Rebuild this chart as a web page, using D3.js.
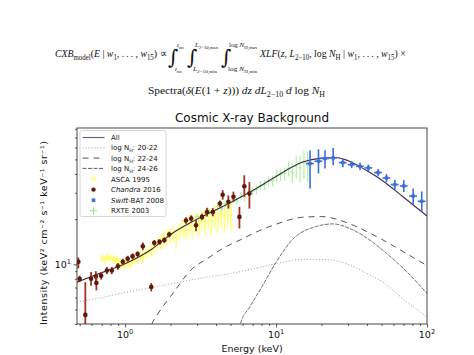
<!DOCTYPE html>
<html><head><meta charset="utf-8">
<script src="https://cdn.jsdelivr.net/npm/d3@7"></script>
<style>body{margin:0;background:#fff}svg{display:block}</style>
</head><body>
<svg id="c" width="474" height="355"></svg>
<script>
// ---------- data ----------
const allE = [0.48,0.7,1,1.5,2,3,5,7,10,15,20,25,30,40,50,70,100];
const allV = [7.6,8.8,10.1,12.6,15.8,20,25.8,31,38.5,48,51,51.5,49,42,36.5,28,21];
const nh2022E = [0.48,0.7,1,1.5,2,3,5,7,10,15,20,30,40,50,70,100];
const nh2022V = [5.6,6.0,6.5,7.0,7.4,8.0,8.7,9.3,10.1,10.8,10.8,10.0,8.7,7.7,5.85,4.45];
const nh2224E = [1.4,1.5,1.7,2,2.8,3.5,4.4,6,7,10,15,20,30,40,50,70,100];
const nh2224V = [3.4,4.0,4.9,6.1,9.4,10.9,12.7,14.8,16.0,18.5,20.6,20.8,18.8,16.5,14.7,12.1,9.8];
const nh2426E = [5.5,5.8,6.7,8,10,13,18.6,24,30,36,51,73.6,100];
const nh2426V = [3.2,4.0,5.2,7.0,10.3,14.8,17.9,18.6,17.5,16.0,12.4,8.9,6.4];

const ascaE = [0.70,0.73,0.76,0.79,0.82,0.85,0.88,0.91,0.94,0.97,1.00,1.04,1.08,1.12,1.16,1.21,1.26,1.31,1.37,1.43,1.50,1.57,1.64,1.72,1.80,1.89,1.98,2.08,2.18,2.29,2.40,2.52,2.65,2.78,2.92,3.07,3.22,3.38,3.55,3.73,3.92,4.12,4.33,4.55,4.78,5.02];
const ascaV = [11.0,10.7,11.2,10.9,11.1,10.6,10.8,10.4,10.2,9.9,10.1,10.3,10.0,10.6,10.9,11.0,11.4,11.2,11.9,12.1,12.5,13.2,13.8,14.0,14.9,15.1,15.6,16.0,15.3,16.8,17.5,17.0,18.3,17.8,19.0,18.6,19.8,19.2,20.5,19.5,21.0,20.2,21.6,20.8,22.0,21.2];
const ascaErr = [0.6,0.6,0.6,0.6,0.6,0.6,0.6,0.6,0.6,0.6,0.7,0.7,0.7,0.8,0.8,0.9,0.9,1.0,1.0,1.1,1.2,1.3,1.4,1.5,1.6,1.7,1.8,1.9,2.2,2.0,2.4,2.6,2.5,2.8,2.9,3.2,3.0,3.5,3.3,3.8,3.6,4.0,3.8,4.2,4.0,4.4];

const chE = [0.49,0.50,0.545,0.595,0.64,0.645,0.694,0.757,0.816,0.895,0.965,1.04,1.12,1.21,1.31,1.49,1.56,1.69,1.82,1.96,2.53,2.74,2.95,3.23,3.49,3.81,4.25,4.43,4.83,5.22,5.72,6.16,6.66];
const chV = [10.4,8.0,4.6,8.0,8.3,7.5,8.4,9.1,9.1,9.7,10.4,10.9,11.3,11.7,13.2,7.05,13.9,14.1,14.5,15.8,19.6,20.2,18.2,20.7,22.3,22.3,25.4,29.1,26.1,28.2,20.7,33.1,29.6];
const chLo = [9.4,7.6,3.5,7.2,7.7,6.7,7.9,8.6,8.6,9.2,9.9,10.4,10.8,11.2,12.4,6.6,13.3,13.5,13.9,15.1,18.6,19.2,16.6,19.7,20.8,20.9,24.2,27.0,23.5,26.0,17.3,28.2,23.5];
const chHi = [11.1,8.4,7.6,8.9,9.0,8.3,8.9,9.6,9.6,10.2,10.9,11.4,11.8,12.2,14.0,7.5,14.5,14.7,15.1,16.5,20.6,21.2,19.9,21.7,23.8,23.7,26.6,31.2,28.8,30.5,24.1,39.2,35.3];

const swE = [16.8,19.1,21.1,23.9,27.7,31.7,36.0,40.9,47.4,53.9,61.2,70.2,81.0,92.3];
const swV = [46.9,48.7,50.7,51.2,47.6,46.2,45.0,43.9,40.9,37.6,34.0,33.3,28.5,26.3];
const swLo = [32.0,40.3,43.5,45.7,44.4,43.7,42.5,41.6,38.6,35.3,31.5,30.3,25.0,22.3];
const swHi = [57.5,58.4,57.5,59.6,50.7,48.7,47.5,46.2,43.2,39.9,36.5,36.3,32.0,30.6];

const rxE = [3.0,3.2,3.4,3.6,3.85,4.1,4.35,4.6,4.9,5.2,5.5,5.85,6.2,6.6,7.0,7.4,7.9,8.4,8.9,9.5,10.1,10.7,11.4,12.1,12.8,13.6,14.4,15.3,16.2];
const rxV = [20.8,20.2,21.9,22.4,22.0,24.3,23.6,25.4,24.9,27.0,26.4,28.6,28.0,30.2,30.8,31.5,33.4,33.9,35.8,36.1,38.9,39.5,40.2,43.6,41.0,45.2,44.0,47.5,46.0];
const rxErr = [0.8,0.9,1.0,1.0,1.1,1.2,1.2,1.3,1.4,1.5,1.6,1.7,1.8,1.9,2.0,2.2,2.4,2.6,2.8,3.0,3.3,3.6,4.0,5.0,6.0,8.0,9.0,10.0,11.0];

const xMajor = [1,10,100];
const xMinor = [0.5,0.6,0.7,0.8,0.9,2,3,4,5,6,7,8,9,20,30,40,50,60,70,80,90];
const yMajor = [10];
const yMinor = [4,5,6,7,8,9,20,30,40,50,60,70,80];
const xTickExp = ["0","1","2"];
const yTickExp = ["1"];

// ---------- layout ----------
const svg = d3.select("#c");
const L=77,R=427,T=128,B=324;
const x = d3.scaleLog().domain([0.48,100]).range([L,R]);
const y = d3.scaleLog().domain([4,81]).range([B,T]);
const SANS = "DejaVu Sans, sans-serif";
const SERIF = "Liberation Serif, Times New Roman, serif";

function rich(g, xx, yy, parts, size, family, anchor) {
  const t = g.append("text").attr("x",xx).attr("y",yy)
    .style("font-family",family).style("font-size",size+"px").attr("fill","#111");
  if (anchor) t.attr("text-anchor",anchor);
  let shift=0;
  parts.forEach(p=>{
    const s=p[0], o=p[1]||{};
    const target = o.sub ? size*0.28 : (o.sup ? -size*0.38 : 0);
    const ts=t.append("tspan").text(s).attr("dy",target-shift);
    shift=target;
    if(o.sub||o.sup) ts.style("font-size",(size*0.7)+"px");
    if(o.i) ts.style("font-style","italic");
  });
  return t;
}
function fitW(t, x0, w){
  const bb=t.node().getBBox();
  if(bb.width>0) t.attr("transform",`translate(${x0},0) scale(${w/bb.width},1) translate(${-x0},0)`);
}

// ---------- equation ----------
const eq = svg.append("g");
const ES=10.5;
const dots=", .\u2009.\u2009. , ";
fitW(rich(eq,55,57,[["CXB",{i:1}],["model",{sub:1}],["(",{}],["E",{i:1}],[" | ",{}],["w",{i:1}],["1",{sub:1}],[dots,{}],["w",{i:1}],["15",{sub:1}],[") ∝",{}]],ES,SERIF),55,112);
const ints = [
  {x:168, ux:177, lx:175, uw:8, lw:8, up:[["z",{i:1}],["max",{sub:1}]], lo:[["z",{i:1}],["min",{sub:1}]]},
  {x:187, ux:195, lx:193, uw:25, lw:26, up:[["L",{i:1}],["2−10,max",{sub:1}]], lo:[["L",{i:1}],["2−10,min",{sub:1}]]},
  {x:221, ux:229, lx:228, uw:29, lw:30, up:[["log ",{}],["N",{i:1}],["H,max",{sub:1}]], lo:[["log ",{}],["N",{i:1}],["H,min",{sub:1}]]}
];
ints.forEach(d=>{
  eq.append("text").attr("x",d.x).attr("y",64).text("∫")
    .style("font-family","DejaVu Serif, serif").style("font-size","20px").attr("fill","#111");
  fitW(rich(eq,d.ux,47,d.up,6.5,SERIF),d.ux,d.uw);
  fitW(rich(eq,d.lx,71,d.lo,6.5,SERIF),d.lx,d.lw);
});
fitW(rich(eq,260,57,[["XLF",{i:1}],["(",{}],["z",{i:1}],[", ",{}],["L",{i:1}],["2−10",{sub:1}],[", log ",{}],["N",{i:1}],["H",{sub:1}],[" | ",{}],["w",{i:1}],["1",{sub:1}],[dots,{}],["w",{i:1}],["15",{sub:1}],[") ×",{}]],ES,SERIF),260,147);
fitW(rich(eq,148,94,[["Spectra(",{}],["δ",{i:1}],["(",{}],["E",{i:1}],["(1 + ",{}],["z",{i:1}],["))) ",{}],["dz dL",{i:1}],["2−10",{sub:1}],[" ",{}],["d",{i:1}],[" log ",{}],["N",{i:1}],["H",{sub:1}]],ES,SERIF),148,178);

// ---------- title & labels ----------
svg.append("text").attr("x",(L+R)/2).attr("y",122).attr("text-anchor","middle")
  .style("font-family",SANS).style("font-size","12px").attr("fill","#111").text("Cosmic X-ray Background");
svg.append("text").attr("x",(L+R)/2).attr("y",352).attr("text-anchor","middle")
  .style("font-family",SANS).style("font-size","9.5px").attr("fill","#111").text("Energy (keV)");
svg.append("text").attr("transform",`translate(47,${(T+B)/2+7}) rotate(-90)`).attr("text-anchor","middle")
  .style("font-family",SANS).style("font-size","9.5px").attr("fill","#111")
  .attr("textLength",184).attr("lengthAdjust","spacing")
  .text("Intensity (keV² cm⁻² s⁻¹ keV⁻¹ sr⁻¹)");

// ---------- axes ----------
const axCol="#333";
function styleAxis(g){ g.select(".domain").remove(); g.selectAll("line").attr("stroke",axCol).attr("stroke-width",0.8); g.selectAll("text").remove(); }
svg.append("g").attr("transform",`translate(0,${B})`).call(d3.axisBottom(x).tickValues(xMajor).tickSize(3.5)).call(styleAxis);
svg.append("g").attr("transform",`translate(0,${B})`).call(d3.axisBottom(x).tickValues(xMinor).tickSize(2)).call(styleAxis);
svg.append("g").attr("transform",`translate(${L},0)`).call(d3.axisLeft(y).tickValues(yMajor).tickSize(3.5)).call(styleAxis);
svg.append("g").attr("transform",`translate(${L},0)`).call(d3.axisLeft(y).tickValues(yMinor).tickSize(2)).call(styleAxis);
xMajor.forEach((v,i)=>{
  rich(svg,x(v),338,[["10",{}],[xTickExp[i],{sup:1}]],9.5,SANS,"middle");
});
yMajor.forEach((v,i)=>{
  rich(svg,71,y(v)+3.5,[["10",{}],[yTickExp[i],{sup:1}]],9.5,SANS,"end");
});

// ---------- plot content ----------
svg.append("clipPath").attr("id","clip").append("rect").attr("x",L).attr("y",T).attr("width",R-L).attr("height",B-T);
const P = svg.append("g").attr("clip-path","url(#clip)");
const line = d3.line().x(d=>x(d[0])).y(d=>y(d[1])).curve(d3.curveMonotoneX);
const zip=(a,b)=>a.map((v,i)=>[v,b[i]]);

// ASCA
const ascaCol="#ffff30";
const ag=P.append("g").attr("opacity",0.7);
ascaE.forEach((e,i)=>{
  const v=ascaV[i], er=ascaErr[i];
  ag.append("line").attr("x1",x(e)).attr("x2",x(e)).attr("y1",y(v-er)).attr("y2",y(v+er)).attr("stroke",ascaCol).attr("stroke-width",1.5);
  ag.append("line").attr("x1",x(e*0.98)).attr("x2",x(e*1.02)).attr("y1",y(v)).attr("y2",y(v)).attr("stroke",ascaCol).attr("stroke-width",1.5);
  ag.append("circle").attr("cx",x(e)).attr("cy",y(v)).attr("r",1.6).attr("fill",ascaCol);
});
// RXTE
const rxCol="#86ec72";
const rg=P.append("g").attr("opacity",0.7);
rxE.forEach((e,i)=>{
  const v=rxV[i], er=rxErr[i];
  rg.append("line").attr("x1",x(e)).attr("x2",x(e)).attr("y1",y(v-er)).attr("y2",y(v+er)).attr("stroke",rxCol).attr("stroke-width",1.1);
  rg.append("line").attr("x1",x(e)-2).attr("x2",x(e)+2).attr("y1",y(v)).attr("y2",y(v)).attr("stroke",rxCol).attr("stroke-width",1.1);
});

// model lines
P.append("path").datum(zip(nh2022E,nh2022V)).attr("d",line).attr("fill","none").attr("stroke","#a0a0a0").attr("stroke-width",1).attr("stroke-dasharray","1,2");
P.append("path").datum(zip(nh2224E,nh2224V)).attr("d",line).attr("fill","none").attr("stroke","#555").attr("stroke-width",1).attr("stroke-dasharray","6,5");
P.append("path").datum(zip(nh2426E,nh2426V)).attr("d",line).attr("fill","none").attr("stroke","#6a5778").attr("stroke-width",0.9).attr("stroke-dasharray","4,1.2");
P.append("path").datum(zip(allE,allV)).attr("d",line).attr("fill","none").attr("stroke","#3f2550").attr("stroke-width",1.1);

// Chandra
const chBar="#a3321f", chDot="#5a1a0e";
const cg=P.append("g");
chE.forEach((e,i)=>{
  cg.append("line").attr("x1",x(e)).attr("x2",x(e)).attr("y1",y(chLo[i])).attr("y2",y(chHi[i])).attr("stroke",chBar).attr("stroke-width",1.8);
  cg.append("line").attr("x1",x(e*0.98)).attr("x2",x(e*1.02)).attr("y1",y(chV[i])).attr("y2",y(chV[i])).attr("stroke",chBar).attr("stroke-width",1.2);
  cg.append("circle").attr("cx",x(e)).attr("cy",y(chV[i])).attr("r",2.3).attr("fill",chDot);
});
// Swift
const swCol="#3d6fd8";
const sg=P.append("g");
swE.forEach((e,i)=>{
  sg.append("line").attr("x1",x(e)).attr("x2",x(e)).attr("y1",y(swLo[i])).attr("y2",y(swHi[i])).attr("stroke",swCol).attr("stroke-width",1.6);
  sg.append("line").attr("x1",x(e*0.94)).attr("x2",x(e*1.06)).attr("y1",y(swV[i])).attr("y2",y(swV[i])).attr("stroke",swCol).attr("stroke-width",1.6);
  sg.append("rect").attr("x",x(e)-1.7).attr("y",y(swV[i])-1.7).attr("width",3.4).attr("height",3.4).attr("fill",swCol);
});

// frame
svg.append("rect").attr("x",L).attr("y",T).attr("width",R-L).attr("height",B-T).attr("fill","none").attr("stroke",axCol).attr("stroke-width",0.9);

// ---------- legend ----------
const lg=svg.append("g");
lg.append("rect").attr("x",80).attr("y",130.5).attr("width",86).attr("height",86).attr("rx",2)
  .attr("fill","#fff").attr("fill-opacity",0.85).attr("stroke","#ccc").attr("stroke-width",0.8);
const legY=[137.5,147.8,158.1,168.4,179,189.6,200.2,210.8];
const hx0=82.5,hx1=104.5,hxm=93.5,tx=111, LS=7;
lg.append("line").attr("x1",hx0).attr("x2",hx1).attr("y1",legY[0]).attr("y2",legY[0]).attr("stroke","#6a5478").attr("stroke-width",1.1);
lg.append("line").attr("x1",hx0).attr("x2",hx1).attr("y1",legY[1]).attr("y2",legY[1]).attr("stroke","#999").attr("stroke-dasharray","1,2");
lg.append("line").attr("x1",hx0).attr("x2",hx1).attr("y1",legY[2]).attr("y2",legY[2]).attr("stroke","#555").attr("stroke-dasharray","6,5");
lg.append("line").attr("x1",hx0).attr("x2",hx1).attr("y1",legY[3]).attr("y2",legY[3]).attr("stroke","#6a5878").attr("stroke-dasharray","4,1.5");
lg.append("circle").attr("cx",hxm).attr("cy",legY[4]).attr("r",2.2).attr("fill",ascaCol).attr("opacity",0.6);
lg.append("circle").attr("cx",hxm).attr("cy",legY[5]).attr("r",2.2).attr("fill",chDot);
lg.append("rect").attr("x",hxm-1.8).attr("y",legY[6]-1.8).attr("width",3.6).attr("height",3.6).attr("fill",swCol);
lg.append("line").attr("x1",hxm-3.5).attr("x2",hxm+3.5).attr("y1",legY[7]).attr("y2",legY[7]).attr("stroke",rxCol);
lg.append("line").attr("x1",hxm).attr("x2",hxm).attr("y1",legY[7]-3.5).attr("y2",legY[7]+3.5).attr("stroke",rxCol);
const legParts=[
  [["All",{}]],
  [["log N",{}],["H",{sub:1}],[": 20-22",{}]],
  [["log N",{}],["H",{sub:1}],[": 22-24",{}]],
  [["log N",{}],["H",{sub:1}],[": 24-26",{}]],
  [["ASCA 1995",{}]],
  [["Chandra",{i:1}],[" 2016",{}]],
  [["Swift",{i:1}],["-BAT 2008",{}]],
  [["RXTE 2003",{}]]
];
legParts.forEach((p,i)=>rich(lg,tx,legY[i]+2.5,p,LS,SANS));
</script>
</body></html>
